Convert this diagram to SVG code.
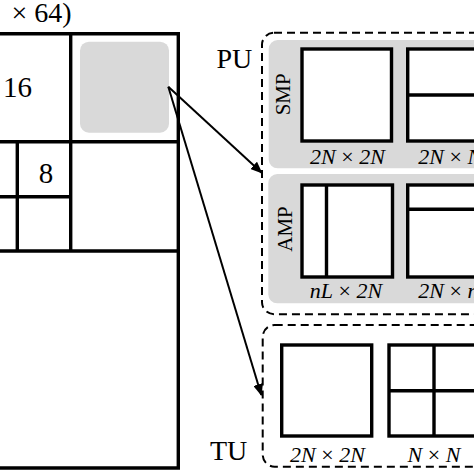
<svg xmlns="http://www.w3.org/2000/svg" width="474" height="474" viewBox="0 0 474 474">
<style>
.t{font-family:"Liberation Serif","Times New Roman",serif;fill:#000}
.big{font-size:28px}
.lbl{font-size:22px;text-anchor:middle}
.lbs{font-size:22px}
.it{font-style:italic}
.grid{fill:none;stroke:#000;stroke-width:3.4}
.sq{fill:#fff;stroke:#000;stroke-width:3.4}
.panel{fill:#d9d9d9}
.dash{fill:none;stroke:#000;stroke-width:2;stroke-dasharray:8 5}
.arr{stroke:#000;stroke-width:2;fill:none}
</style>
<defs>
<marker id="ah" markerUnits="userSpaceOnUse" markerWidth="12" markerHeight="10" viewBox="0 0 12 10" refX="11" refY="5" orient="auto">
<path d="M0,0 L12,5 L0,10 Z" fill="#000"/>
</marker>
</defs>
<rect width="474" height="474" fill="#fff"/>

<g id="title"><text class="t big" x="11.5" y="21.5">× 64)</text></g>

<g id="ctu">
<path class="grid" d="M-5,33.7 H178.3 V468 H-5 M70.7,33.7 V251 M-5,141.8 H178.3 M-5,251 H178.3 M17.3,141.8 V251 M-5,196.7 H70.7"/>
<rect x="80" y="41.7" width="89" height="91" rx="9" fill="#d9d9d9"/>
<text class="t" font-size="29" x="17.5" y="97.3" text-anchor="middle">16</text>
<text class="t" font-size="29" x="46" y="182.7" text-anchor="middle">8</text>
</g>

<g id="connectors">
<line class="arr" x1="168.3" y1="86.7" x2="261.7" y2="172.8" marker-end="url(#ah)"/>
<line class="arr" x1="168.3" y1="86.7" x2="261.3" y2="395" marker-end="url(#ah)"/>
</g>

<g id="pu">
<rect class="dash" x="262" y="32.7" width="260" height="281.5" rx="12"/>
<text class="t big" x="216.5" y="68">PU</text>
</g>

<g id="smp">
<rect class="panel" x="268.7" y="40" width="240" height="128.3" rx="9"/>
<text class="t" font-size="21" text-anchor="middle" transform="translate(290,94.3) rotate(-90)">SMP</text>
<rect class="sq" x="302" y="49" width="89.5" height="92"/>
<rect class="sq" x="407.7" y="49" width="90" height="92"/>
<line class="grid" x1="407.7" y1="95" x2="500" y2="95"/>
<text class="t lbl" x="347.5" y="164.3"><tspan class="it">2N</tspan> × <tspan class="it">2N</tspan></text>
<text class="t lbs" x="418.3" y="164.3"><tspan class="it">2N</tspan> × <tspan class="it">N</tspan></text>
</g>

<g id="amp">
<rect class="panel" x="268.3" y="174" width="240" height="129.3" rx="9"/>
<text class="t" font-size="21" text-anchor="middle" transform="translate(291.5,229) rotate(-90)">AMP</text>
<rect class="sq" x="302" y="185" width="90.5" height="92"/>
<line class="grid" x1="326.5" y1="185" x2="326.5" y2="277"/>
<rect class="sq" x="407.7" y="185" width="90" height="92"/>
<line class="grid" x1="407.7" y1="209.3" x2="500" y2="209.3"/>
<text class="t lbl" x="346" y="297.5"><tspan class="it">nL</tspan> × <tspan class="it">2N</tspan></text>
<text class="t lbs" x="418.3" y="297.5"><tspan class="it">2N</tspan> × <tspan class="it">n</tspan></text>
</g>

<g id="tu">
<rect class="dash" x="262.7" y="325" width="260" height="141.7" rx="12"/>
<text class="t big" x="210" y="460">TU</text>
<rect class="sq" x="281.7" y="345" width="90" height="91"/>
<rect class="sq" x="389" y="345" width="90" height="91"/>
<path class="grid" d="M434,345 V436 M389,390.7 H479"/>
<text class="t lbl" x="327.5" y="461.5"><tspan class="it">2N</tspan> × <tspan class="it">2N</tspan></text>
<text class="t lbl" x="434" y="461.5"><tspan class="it">N</tspan> × <tspan class="it">N</tspan></text>
</g>
</svg>
